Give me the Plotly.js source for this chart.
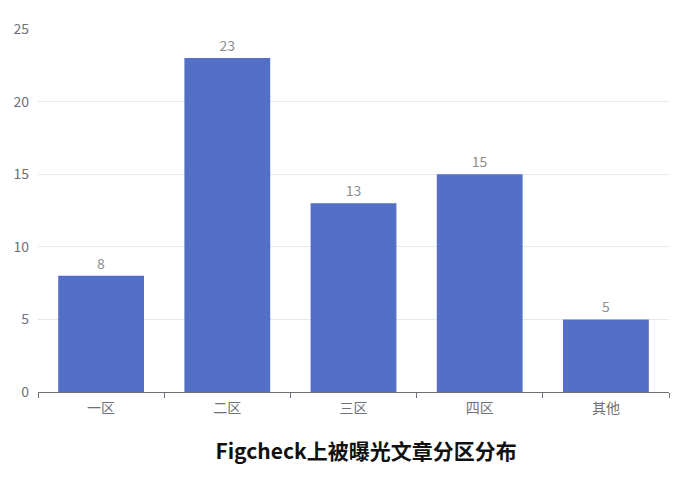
<!DOCTYPE html>
<html><head><meta charset="utf-8">
<script src="https://cdn.plot.ly/plotly-3.0.1.min.js"></script>
<style>html,body{margin:0;padding:0;background:#fff}#c{width:700px;height:487px}</style>
</head><body><div id="c"></div>
<script>
const categories = ["一区", "二区", "三区", "四区", "其他"];
const counts = [8, 23, 13, 15, 5];
const yTicks = [0, 5, 10, 15, 20, 25];
const chartTitle = "Figcheck上被曝光文章分区分布";

const font = "Noto Sans CJK SC, Microsoft YaHei, sans-serif";
Plotly.newPlot("c", [{
  type: "bar",
  x: categories,
  y: counts,
  text: counts.map(String),
  textposition: "outside",
  cliponaxis: false,
  textfont: {color: "#8c8c8c", size: 14, family: font},
  marker: {color: "#5470c6"},
  hoverinfo: "none"
}], {
  width: 700, height: 487,
  margin: {l: 38, r: 31, t: 29, b: 95},
  paper_bgcolor: "#fff", plot_bgcolor: "#fff",
  bargap: 0.32,
  showlegend: false,
  font: {family: font, color: "#6e7079", size: 14},
  title: {
    text: "<b>" + chartTitle + "</b>",
    font: {family: font, size: 21, color: "#111"},
    xref: "container", yref: "container",
    x: 0.523, y: 1 - 452/487, xanchor: "center", yanchor: "middle"
  },
  xaxis: {
    type: "category",
    showline: true, linecolor: "#6e7079", linewidth: 1,
    ticks: "outside", tickson: "boundaries", ticklen: 5, tickcolor: "#6e7079",
    showgrid: false, zeroline: false, ticklabelstandoff: 3,
    tickfont: {size: 14, color: "#6e7079"}
  },
  yaxis: {
    range: [0, 25],
    tickvals: yTicks,
    showline: false, zeroline: false,
    showgrid: true, gridcolor: "#e6e8ec", gridwidth: 1,
    ticks: "", ticklabelstandoff: 8,
    tickfont: {size: 14, color: "#6e7079"}
  }
}, {staticPlot: true});
</script></body></html>
